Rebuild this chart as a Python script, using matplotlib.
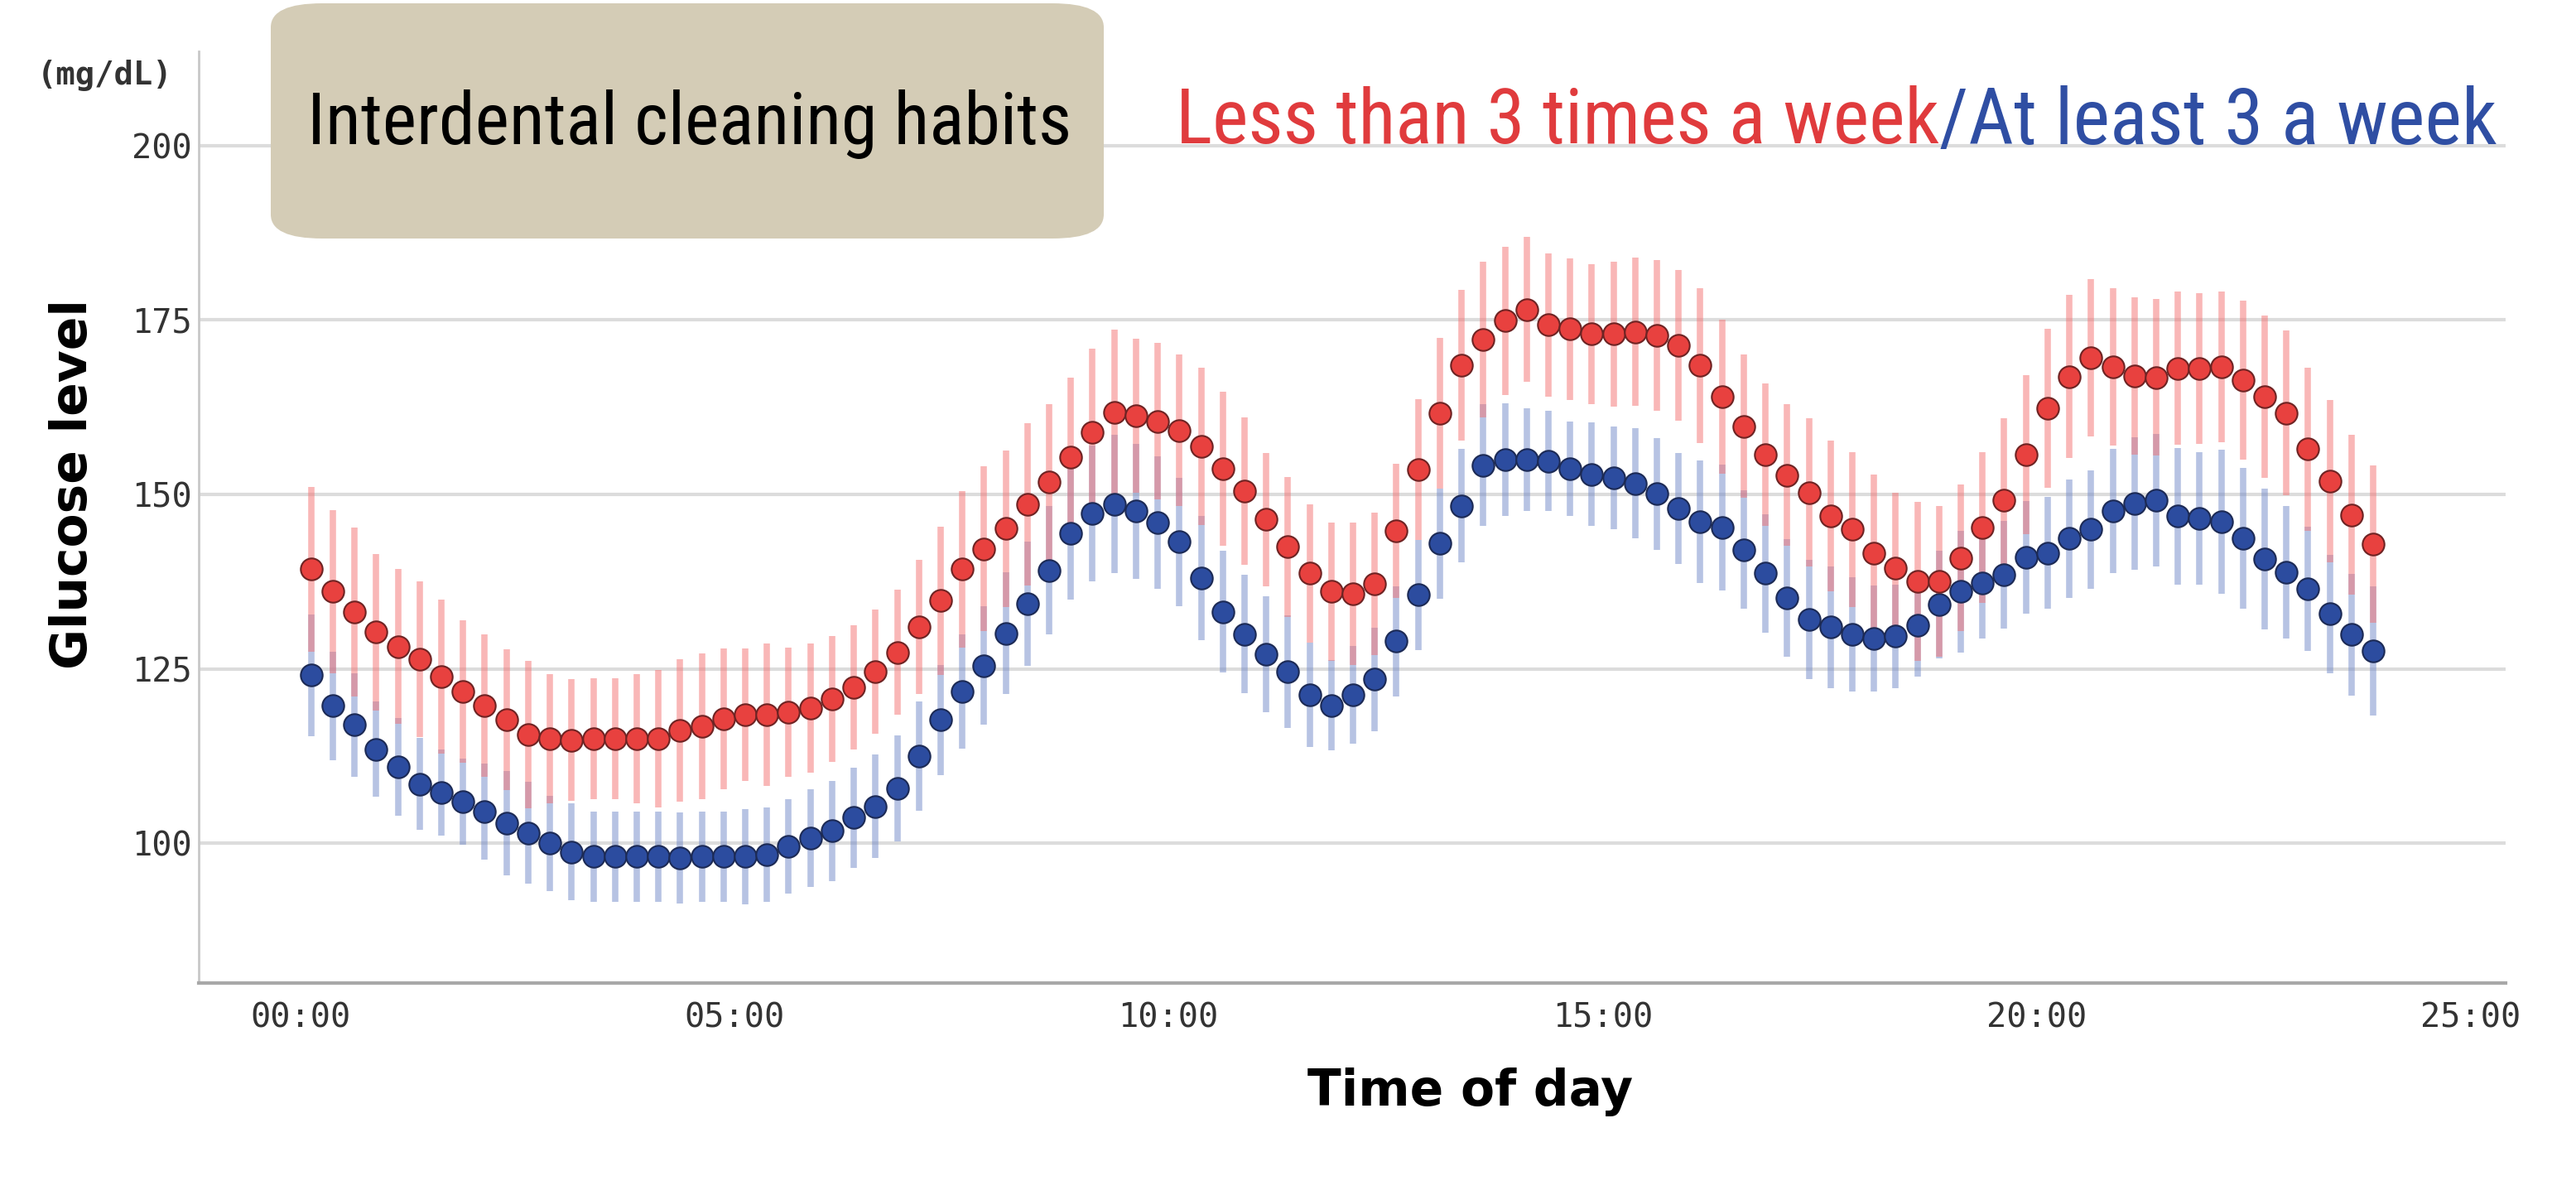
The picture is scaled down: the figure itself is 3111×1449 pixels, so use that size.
import numpy as np
import matplotlib
matplotlib.use('Agg')
import matplotlib.pyplot as plt
from matplotlib import font_manager as fm
from matplotlib.patches import FancyBboxPatch

# measurement times: every 15 min, plotted at the middle of each slot
times = np.arange(96) * 0.25 + 0.125

# Less than 3 times a week (red)
red = [139.3, 136.1, 133.2, 130.3, 128.2, 126.4, 123.9, 121.8, 119.7, 117.7, 115.6, 115.0,
       114.8, 115.0, 115.0, 115.0, 115.0, 116.2, 116.8, 117.9, 118.5, 118.5,
       118.8, 119.4, 120.7, 122.4, 124.6, 127.4, 131.0, 134.8, 139.3, 142.2, 145.1, 148.6,
       151.8, 155.3, 158.9, 161.8, 161.3, 160.5, 159.2, 156.9, 153.7, 150.5, 146.4, 142.5,
       138.7, 136.1, 135.8,
       137.2, 144.8, 153.6, 161.7, 168.5, 172.2, 174.9, 176.5, 174.3, 173.7, 173.0, 173.0,
       173.3, 172.8, 171.4, 168.5, 164.0, 159.8, 155.7, 152.8, 150.3, 146.9, 145.0, 141.6,
       139.5, 137.6, 137.6,
       140.9, 145.3, 149.2, 155.7, 162.4, 166.9, 169.6, 168.3, 167.0, 166.8, 168.1, 168.0,
       168.3, 166.4, 164.0, 161.7, 156.5, 151.9, 147.1, 142.9]
red_err = [11.8, 11.7, 12.1, 11.2, 11.1, 11.2, 11.0, 10.2, 10.2, 10.1, 10.6, 9.3,
           8.7, 8.7, 8.7, 9.3, 9.9, 10.2, 10.4, 10.1, 9.5, 10.2,
           9.3, 9.3, 9.0, 8.9, 8.9, 9.0, 9.6, 10.6, 11.2, 11.8, 11.2, 11.6,
           11.2, 11.4, 12.0, 11.8, 11.0, 11.2, 10.9, 11.3, 11.0, 10.6, 9.6, 10.0,
           9.9, 9.9, 10.2,
           10.2, 9.6, 10.1, 10.8, 10.8, 11.1, 10.6, 10.4, 10.3, 10.1, 10.0, 10.4,
           10.6, 10.8, 10.8, 11.1, 11.0, 10.3, 10.2, 10.2, 10.6, 10.8, 11.1, 11.3,
           10.8, 11.4, 10.8,
           10.5, 10.8, 11.7, 11.4, 11.4, 11.7, 11.3, 11.3, 11.3, 11.2, 11.0, 10.8,
           10.8, 11.4, 11.6, 11.8, 11.7, 11.6, 11.4, 11.3]

# At least 3 a week (blue)
blue = [124.1, 119.7, 117.0, 113.5, 111.0, 108.5, 107.3, 106.0, 104.6, 102.9, 101.5, 100.0,
        98.8, 98.1, 98.1, 98.1, 98.1, 97.9, 98.1, 98.1, 98.1, 98.4,
        99.6, 100.8, 101.8, 103.7, 105.3, 107.9, 112.5, 117.7, 121.8, 125.5, 130.1, 134.4,
        139.1, 144.4, 147.3, 148.6, 147.6, 146.0, 143.2, 138.0, 133.2, 130.0, 127.1, 124.6,
        121.3, 119.8, 121.3,
        123.5, 129.0, 135.6, 143.0, 148.4, 154.2, 155.0, 155.0, 154.8, 153.7, 152.9, 152.4,
        151.6, 150.1, 148.0, 146.1, 145.3, 142.1, 138.7, 135.2, 132.1, 131.0, 130.0, 129.4,
        129.7, 131.3, 134.2,
        136.1, 137.3, 138.5, 141.0, 141.6, 143.7, 145.0, 147.6, 148.7, 149.2, 146.9, 146.6,
        146.1, 143.7, 140.8, 138.9, 136.5, 132.9, 129.9, 127.6]
blue_err = [8.7, 7.8, 7.4, 6.8, 7.0, 6.6, 6.2, 6.2, 6.9, 7.5, 7.3, 6.8,
            6.9, 6.5, 6.5, 6.5, 6.5, 6.5, 6.5, 6.5, 6.8, 6.8,
            6.8, 7.0, 7.2, 7.2, 7.4, 7.6, 7.8, 7.9, 8.2, 8.5, 8.7, 8.9,
            9.2, 9.5, 9.7, 9.9, 9.7, 9.5, 9.2, 8.9, 8.7, 8.5, 8.3, 8.1,
            7.5, 6.5, 7.0,
            7.4, 7.9, 7.9, 7.9, 8.1, 8.7, 8.1, 7.4, 7.2, 6.8, 7.4, 7.4,
            7.9, 8.0, 8.0, 8.8, 9.0, 8.5, 8.5, 8.4, 8.5, 8.7, 8.2, 7.6,
            7.4, 7.4, 7.7,
            8.7, 7.9, 7.7, 8.1, 8.0, 8.5, 8.5, 8.9, 9.5, 9.5, 9.8, 9.5,
            10.3, 10.1, 10.1, 9.5, 8.9, 8.5, 8.7, 9.3]

xticks = [0, 5, 10, 15, 20, 25]
xticklabels = ['00:00', '05:00', '10:00', '15:00', '20:00', '25:00']
yticks = [100, 125, 150, 175, 200]

# a narrow face for the heading texts if one is around
names = {f.name for f in fm.fontManager.ttflist}
narrow = 'DejaVu Sans'
for cand in ['Liberation Sans Narrow', 'Roboto Condensed', 'Open Sans Condensed',
             'Noto Sans Condensed']:
    if cand in names:
        narrow = cand
        break

W, H = 3111, 1449
fig = plt.figure(figsize=(W / 100, H / 100), dpi=100)
ax = fig.add_axes([240 / W, 1 - 1187 / H, (3026 - 240) / W, (1187 - 62) / H])

ax.errorbar(times, blue, yerr=blue_err, fmt='none', ecolor='#7088c8', alpha=0.5,
            elinewidth=5.5, capsize=0, zorder=2)
ax.errorbar(times, red, yerr=red_err, fmt='none', ecolor='#f47070', alpha=0.5,
            elinewidth=5.5, capsize=0, zorder=3)
ax.plot(times, blue, 'o', ms=19, mfc='#2c4c9f', mec='#1c2a55', mew=1.5, zorder=4)
ax.plot(times, red, 'o', ms=19, mfc='#e8413f', mec='#6e2323', mew=1.5, zorder=5)

ax.set_xlim(-1.17, 25.4)
ax.set_ylim(80, 213.5)
ax.set_xticks(xticks)
ax.set_xticklabels(xticklabels)
ax.set_yticks(yticks)
ax.grid(axis='y', color='#dcdcdc', lw=3, zorder=0)
ax.set_axisbelow(True)
for s in ['top', 'right']:
    ax.spines[s].set_visible(False)
ax.spines['left'].set_color('#c8c8c8')
ax.spines['left'].set_linewidth(2)
ax.spines['bottom'].set_color('#a8a8a8')
ax.spines['bottom'].set_linewidth(3)
ax.tick_params(length=0, labelsize=29, labelcolor='#333333')
ax.tick_params(axis='x', pad=16)
ax.tick_params(axis='y', pad=6)
for lab in ax.get_xticklabels() + ax.get_yticklabels():
    lab.set_family('DejaVu Sans Mono')

fig.text(89 / W, 1 - 585 / H, 'Glucose level', fontsize=43, fontweight='bold',
         rotation=90, ha='center', va='center')
fig.text(1776 / W, 1 - 1318 / H, 'Time of day', fontsize=43, fontweight='bold',
         ha='center', va='center')

fig.text(127 / W, 1 - 91 / H, '(mg/dL)', fontsize=28, family='DejaVu Sans Mono',
         fontweight='bold', color='#333333', ha='center', va='center')

# title box
box = FancyBboxPatch((327 / W, 1 - 288 / H), (1333 - 327) / W, 284 / H,
                     boxstyle='round,pad=0,rounding_size=0.02', transform=fig.transFigure,
                     fc='#d4ccb6', ec='none', zorder=1)
fig.patches.append(box)

fig.canvas.draw()
r = fig.canvas.get_renderer()


def fit(t, width):
    w = t.get_window_extent(r).width
    t.set_fontsize(t.get_fontsize() * width / w)


t1 = fig.text(833 / W, 1 - 150 / H, 'Interdental cleaning habits', fontsize=60,
              family=narrow, fontstretch='condensed', color='black',
              ha='center', va='center', zorder=2)
fit(t1, 923)

t2 = fig.text(2342 / W, 1 - 148 / H, 'Less than 3 times a week', fontsize=60,
              family=narrow, fontstretch='condensed', color='#e03b3d',
              ha='right', va='center')
fit(t2, 923)
t3 = fig.text(2342 / W, 1 - 148 / H, '/At least 3 a week', fontsize=60,
              family=narrow, fontstretch='condensed', color='#2f4ea3',
              ha='left', va='center')
fit(t3, 674)

fig.savefig('out.png', dpi=100)
